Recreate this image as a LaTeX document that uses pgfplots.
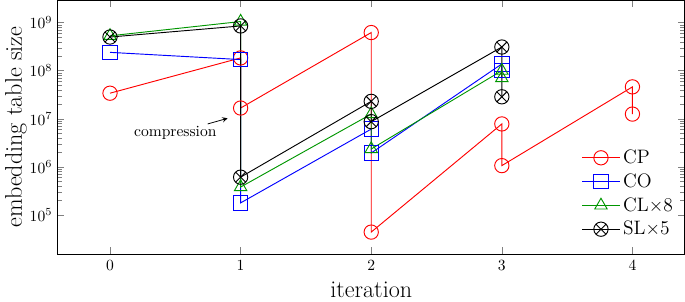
\documentclass[border=0pt]{standalone}
\usepackage{pgfplots}
\pgfplotsset{compat=1.18}
\definecolor{cpred}{RGB}{255,0,0}
\definecolor{coblue}{RGB}{0,0,255}
\definecolor{clgreen}{RGB}{0,150,0}
\begin{document}
\begin{tikzpicture}
\begin{axis}[
  scale only axis,
  width=403pt, height=163pt,
  ymode=log,
  xmin=-0.4, xmax=4.4,
  ymin=1.55e4, ymax=2.9e9,
  xtick={0,1,2,3,4},
  ytick={1e5,1e6,1e7,1e8,1e9},
  xlabel={iteration},
  ylabel={embedding table size},
  xlabel style={font=\fontsize{15.5}{18}\selectfont, inner sep=2.5pt, yshift=-1pt},
  ylabel style={font=\fontsize{15.5}{18}\selectfont, yshift=-5pt},
  xticklabel style={yshift=-1pt},
  every axis plot/.append style={line width=0.6pt, mark size=4.6pt},
  legend style={draw=none, fill=none, font=\fontsize{12.5}{15}\selectfont,
    at={(0.994,0.04)}, anchor=south east, row sep=1pt},
  legend cell align=left,
  legend image code/.code={\draw[mark repeat=2,mark phase=2,#1] plot coordinates {(0cm,0cm) (0.42cm,0cm) (0.84cm,0cm)};},
]
\addplot[color=cpred, mark=o] coordinates {
 (0,3.4e7) (1,1.84e8) (1,1.67e7) (2,6.2e8) (2,4.4e4) (3,7.8e6) (3,1.06e6) (4,4.6e7) (4,1.25e7)};
\addlegendentry{CP}
\addplot[color=coblue, mark=square] coordinates {
 (0,2.4e8) (1,1.7e8) (1,1.78e5) (2,6.1e6) (2,1.94e6) (3,1.38e8) (3,1.0e8)};
\addlegendentry{CO}
\addplot[color=clgreen, mark=triangle] coordinates {
 (0,5.3e8) (1,1.05e9) (1,3.8e5) (2,1.25e7) (2,2.35e6) (3,1.0e8) (3,7.0e7)};
\addlegendentry{CL$\times$8}
\addplot[color=black, mark=otimes] coordinates {
 (0,5.0e8) (1,8.5e8) (1,6.1e5) (2,2.3e7) (2,8.7e6) (3,3.1e8) (3,2.86e7)};
\addlegendentry{SL$\times$5}
\draw[-stealth, line width=0.5pt] (axis cs:0.748,7.8e6) -- (axis cs:0.90,1.02e7);
\node[font=\normalsize] at (axis cs:0.5,5.2e6) {compression};
\end{axis}
\end{tikzpicture}
\end{document}
